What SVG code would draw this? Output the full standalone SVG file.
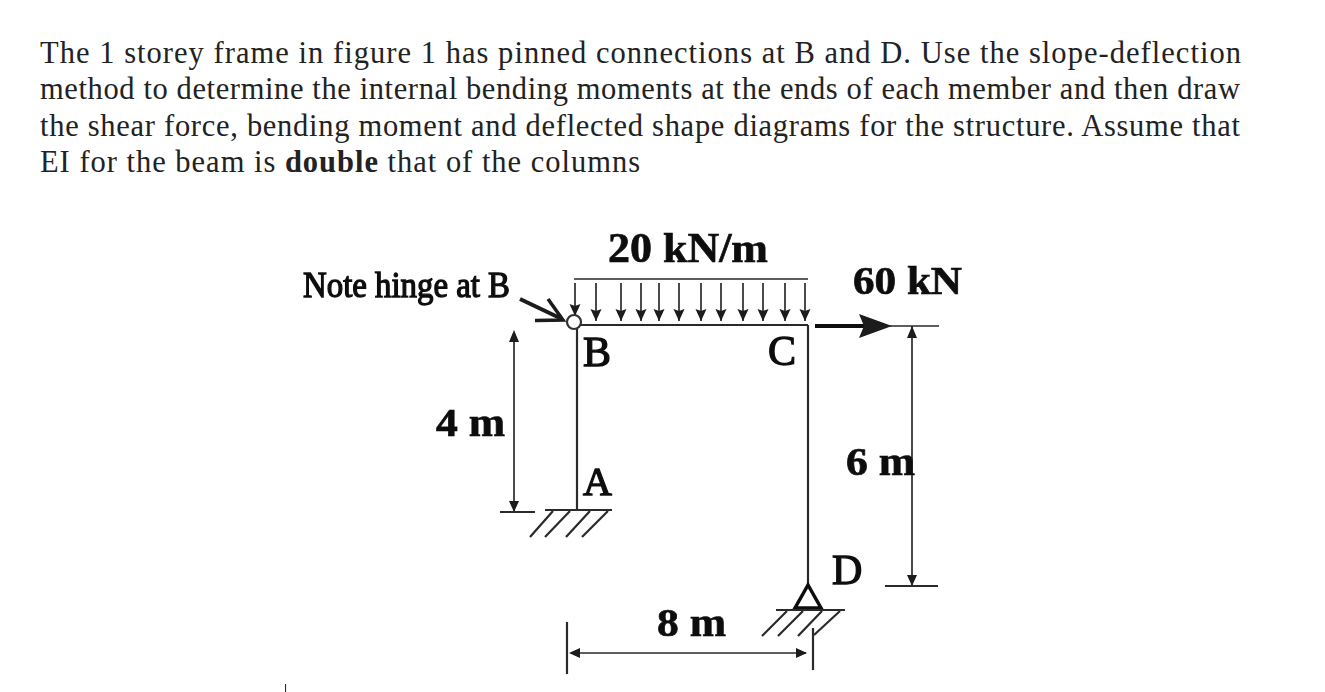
<svg xmlns="http://www.w3.org/2000/svg" width="1325" height="692" viewBox="0 0 1325 692">
<style>
.p{font-family:"Liberation Serif","Times New Roman",serif;font-size:30.5px;fill:#222}
.l{font-family:"Liberation Serif","Times New Roman",serif;fill:#111;stroke:#111;stroke-width:.7}
.n{stroke-width:1.3}
.m{stroke:#2a2a2a;stroke-width:2.2;fill:none}
.t{stroke:#2a2a2a;stroke-width:1.7;fill:none}
.h{fill:#1a1a1a;stroke:none}
</style>
<defs>
<marker id="a" markerUnits="userSpaceOnUse" markerWidth="14" markerHeight="14" refX="6.5" refY="12" orient="0"><path d="M1 0L6.5 12L12 0L6.5 2Z" fill="#1a1a1a"/></marker>
<filter id="s" x="0" y="0" width="100%" height="100%"><feGaussianBlur stdDeviation="0.45"/></filter>
</defs>
<rect width="1325" height="692" fill="#fff"/>
<g id="statement">
<text class="p" x="40" y="62.5" textLength="1201">The 1 storey frame in figure 1 has pinned connections at B and D. Use the slope-deflection</text>
<text class="p" x="40" y="98.5" textLength="1200">method to determine the internal bending moments at the ends of each member and then draw</text>
<text class="p" x="40" y="135.5" textLength="1200">the shear force, bending moment and deflected shape diagrams for the structure. Assume that</text>
<text class="p" x="40" y="171.5" textLength="600">EI for the beam is <tspan font-weight="bold">double</tspan> that of the columns</text>
</g>
<g filter="url(#s)">
<g id="connectors">
<path class="m" d="M577 329V510M581 325H808M808 325V590"/>
<path class="t" d="M574 279H808"/>
<g id="load-arrows" class="t">
<path d="M575 283V316" marker-end="url(#a)"/><path d="M596 283V321" marker-end="url(#a)"/><path d="M621 283V321" marker-end="url(#a)"/><path d="M641 283V321" marker-end="url(#a)"/><path d="M659 283V321" marker-end="url(#a)"/><path d="M679 283V321" marker-end="url(#a)"/><path d="M701 283V321" marker-end="url(#a)"/><path d="M721 283V321" marker-end="url(#a)"/><path d="M743 283V321" marker-end="url(#a)"/><path d="M763 283V321" marker-end="url(#a)"/><path d="M785 283V321" marker-end="url(#a)"/><path d="M805 283V321" marker-end="url(#a)"/>
</g>
<path d="M520 299L562 319" stroke="#1a1a1a" stroke-width="4" fill="none"/>
<path d="M548 299L563 320L535 320.5" stroke="#1a1a1a" stroke-width="3.5" fill="none"/>
<path d="M815 326H865" stroke="#111" stroke-width="4" fill="none"/>
<path class="h" d="M859 314L892 326L859 338L864 326Z"/>
<path class="t" d="M890 326H939"/>
<path class="t" d="M514 335V512"/>
<path class="h" d="M514 330L519 342H509ZM514 512L509 501H519Z"/>
<path class="m" d="M500 512H535M545 510H612M553 511L530 537M570 511L545 537M590 511L566 537M608 511L582 537"/>
<path class="t" d="M912 326V585"/>
<path class="h" d="M912 326L917 338H907ZM912 586L907 575H917Z"/>
<path class="m" d="M885 586H938"/>
<path d="M808 585L795 608H821Z" fill="#fff" stroke="#111" stroke-width="3.5"/>
<path class="m" d="M776 610H845M787 611L762 636M803 611L778 636M822 611L798 636M840 611L814 635"/>
<path class="m" d="M813 628V670M567 622V674"/>
<path class="t" d="M572 653H806"/>
<path class="h" d="M569 653L580 648V658ZM807 653L796 648V658Z"/>
<path class="m" d="M285 684V692"/>
</g>
<g id="hinge-B"><circle cx="574" cy="322" r="7" fill="#fff" stroke="#333" stroke-width="2.2"/></g>
<g id="label-load"><text class="l" x="608" y="262" font-size="42" font-weight="bold" textLength="160" lengthAdjust="spacingAndGlyphs">20 kN/m</text></g>
<g id="label-hinge"><text class="l n" x="303" y="297" font-size="35" textLength="207" lengthAdjust="spacingAndGlyphs">Note hinge at B</text></g>
<g id="label-force"><text class="l" x="853" y="294" font-size="40" textLength="109" lengthAdjust="spacingAndGlyphs" font-weight="bold">60 kN</text></g>
<g id="node-B"><text class="l n" x="583" y="366" font-size="42">B</text></g>
<g id="node-C"><text class="l n" x="768" y="365" font-size="42">C</text></g>
<g id="node-A"><text class="l n" x="583" y="495" font-size="40">A</text></g>
<g id="node-D"><text class="l n" x="832" y="584" font-size="42">D</text></g>
<g id="label-4m"><text class="l" x="436" y="436" font-size="40" font-weight="bold" textLength="69" lengthAdjust="spacingAndGlyphs">4 m</text></g>
<g id="label-6m"><text class="l" x="846" y="475" font-size="40" font-weight="bold" textLength="69" lengthAdjust="spacingAndGlyphs">6 m</text></g>
<g id="label-8m"><text class="l" x="657" y="636" font-size="40" font-weight="bold" textLength="69" lengthAdjust="spacingAndGlyphs">8 m</text></g>
</g>
</svg>
